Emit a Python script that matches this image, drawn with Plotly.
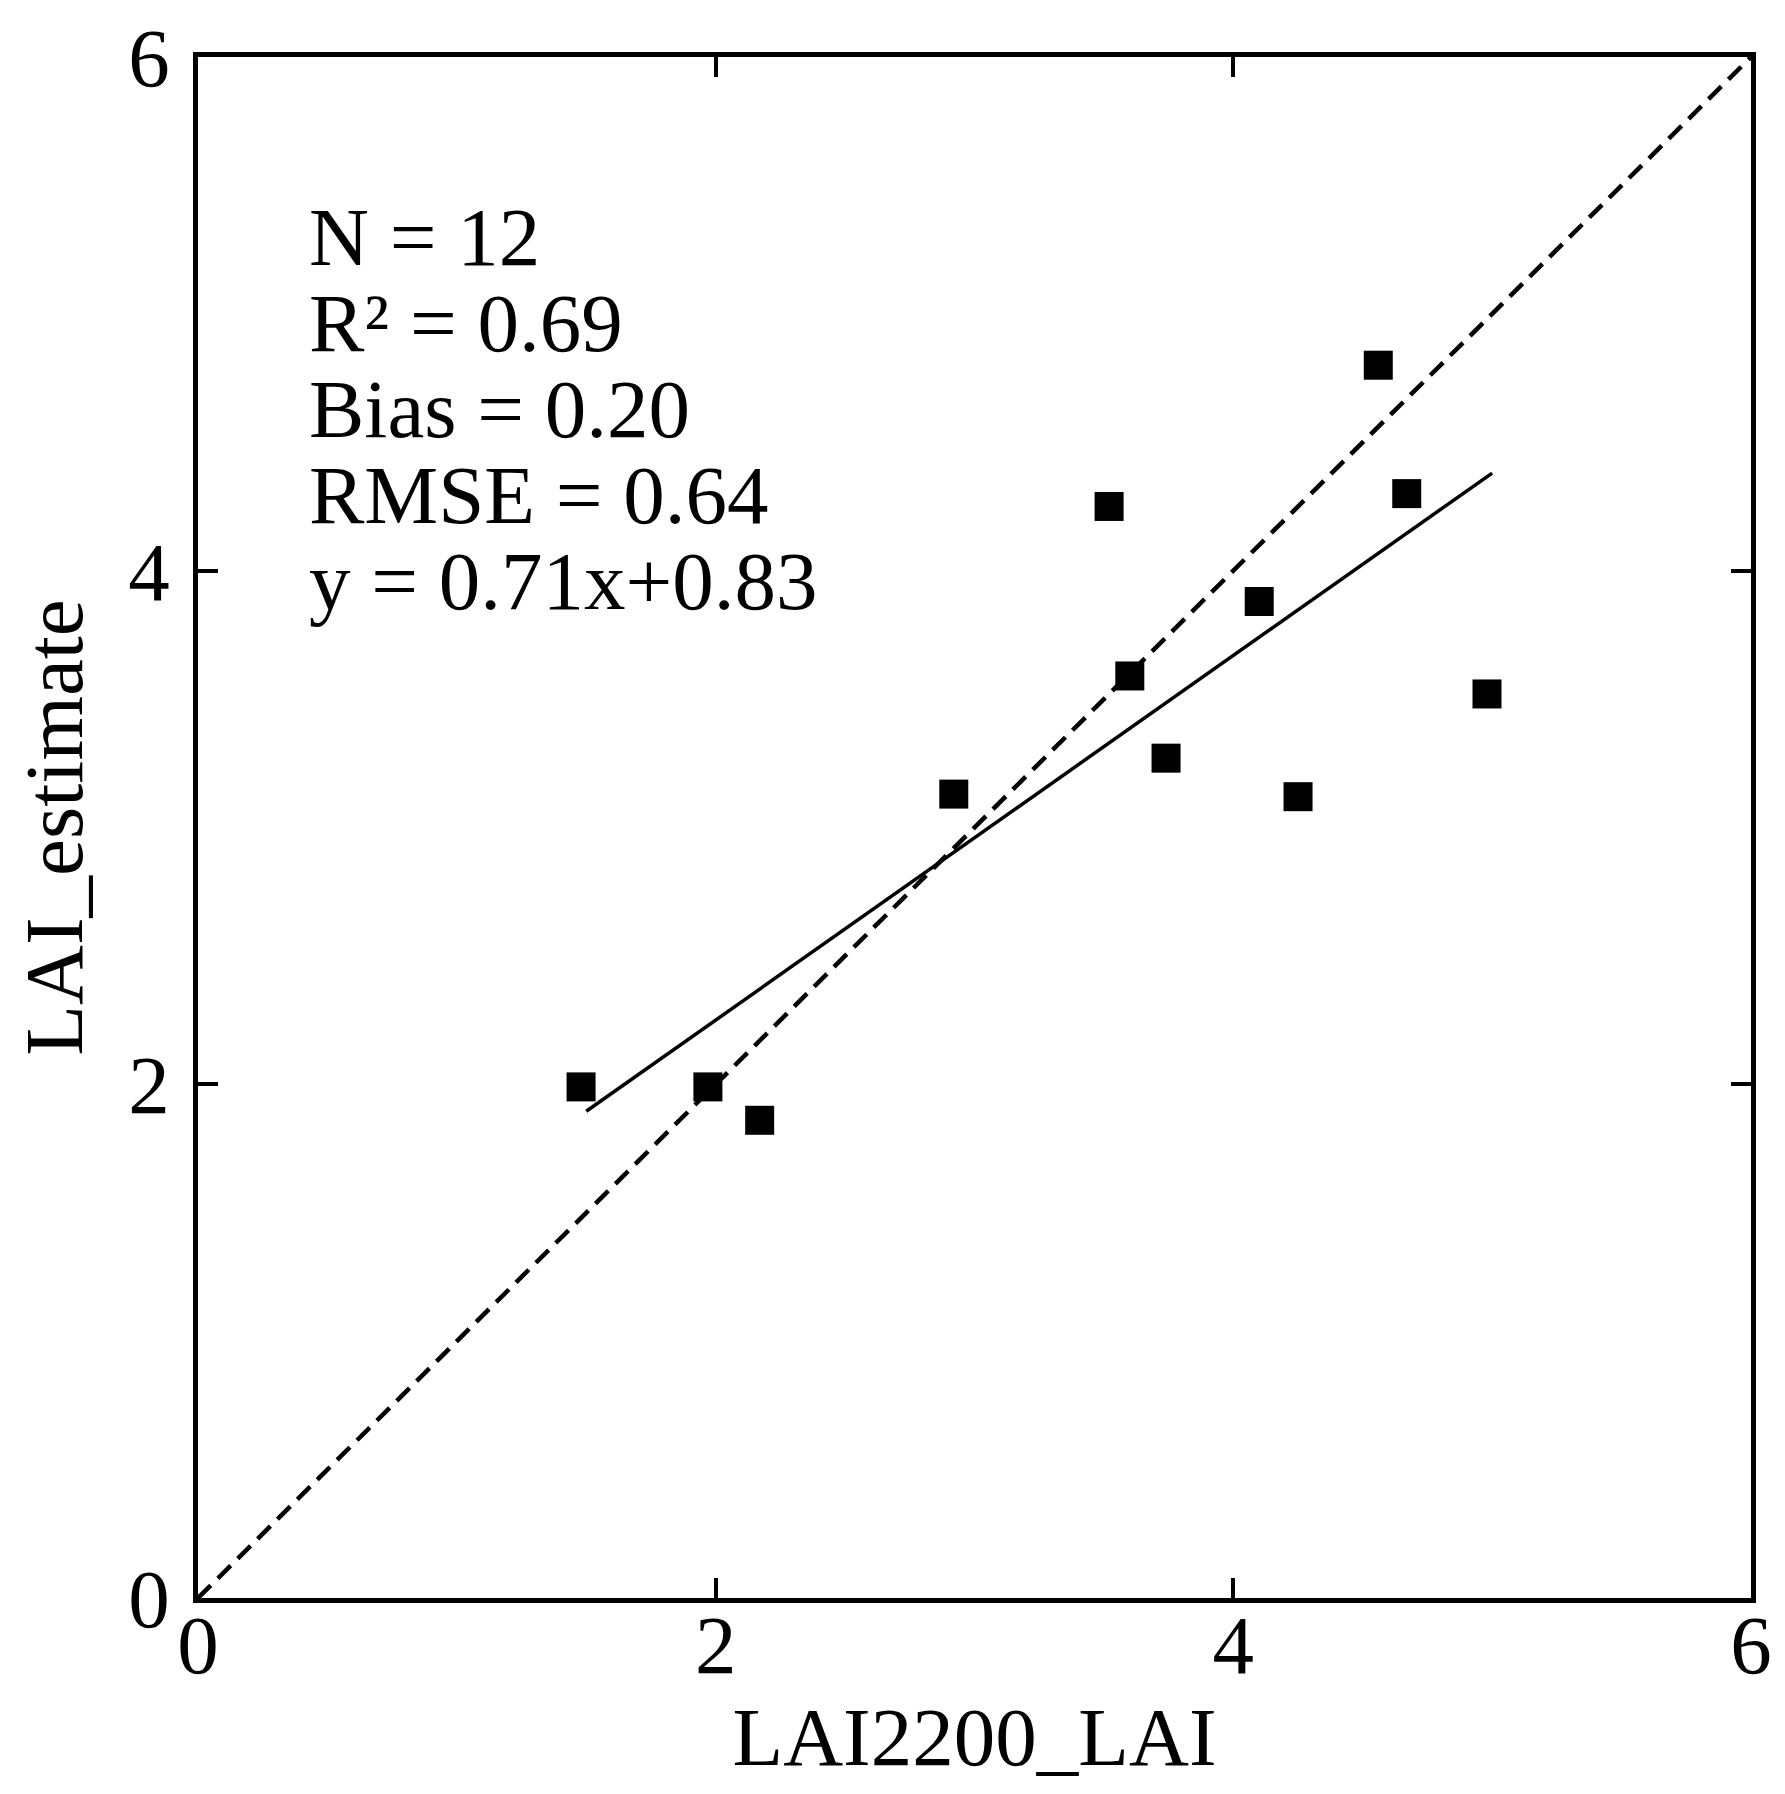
import plotly.graph_objects as go

# Data
lai2200 = [1.48, 1.97, 2.17, 2.92, 3.52, 3.60, 3.74, 4.10, 4.25, 4.56, 4.67, 4.98]
lai_est = [1.99, 1.99, 1.86, 3.13, 4.25, 3.59, 3.27, 3.88, 3.12, 4.80, 4.30, 3.52]

one_to_one = [0, 6]
fit_slope = 0.71
fit_intercept = 0.83
fit_x = [1.5, 5.0]
fit_y = [fit_slope * v + fit_intercept for v in fit_x]

stats_lines = ["N = 12", "R² = 0.69", "Bias = 0.20", "RMSE = 0.64", "y = 0.71x+0.83"]
tick_vals = [0, 2, 4, 6]

FONT = "Liberation Serif, Times New Roman, serif"
FS = 83

fig = go.Figure()
fig.add_trace(go.Scatter(x=one_to_one, y=one_to_one, mode="lines",
                         line=dict(color="black", width=4.5, dash="18px,10px"),
                         showlegend=False, hoverinfo="skip"))
fig.add_trace(go.Scatter(x=fit_x, y=fit_y, mode="lines",
                         line=dict(color="black", width=3.5),
                         showlegend=False, hoverinfo="skip"))
fig.add_trace(go.Scatter(x=lai2200, y=lai_est, mode="markers",
                         marker=dict(symbol="square", size=29, color="black",
                                     line=dict(width=0)),
                         showlegend=False))

for i, t in enumerate(stats_lines):
    fig.add_annotation(x=0.42, y=5.30, xref="x", yref="y", text=t,
                       showarrow=False, xanchor="left", yanchor="middle",
                       yshift=-86 * i,
                       font=dict(family=FONT, size=FS, color="black"))

axis_common = dict(range=[0, 6], tickvals=tick_vals, ticks="inside", ticklen=20,
                   tickwidth=3.5, tickcolor="black", showline=True, linewidth=4.5,
                   linecolor="black", mirror="ticks", showgrid=False, zeroline=False,
                   tickfont=dict(family=FONT, size=FS, color="black"))

fig.update_xaxes(**axis_common, title=dict(text="LAI2200_LAI", standoff=2,
                 font=dict(family=FONT, size=FS, color="black")), ticklabelstandoff=-29)
fig.update_yaxes(**axis_common, title=dict(text="LAI_estimate", standoff=35,
                 font=dict(family=FONT, size=FS, color="black")), ticklabelstandoff=7)

fig.update_layout(width=1785, height=1794,
                  margin=dict(l=190, r=42, t=49, b=204, autoexpand=False),
                  plot_bgcolor="white", paper_bgcolor="white",
                  font=dict(family=FONT, size=FS, color="black"))

fig.write_html("out.html")
